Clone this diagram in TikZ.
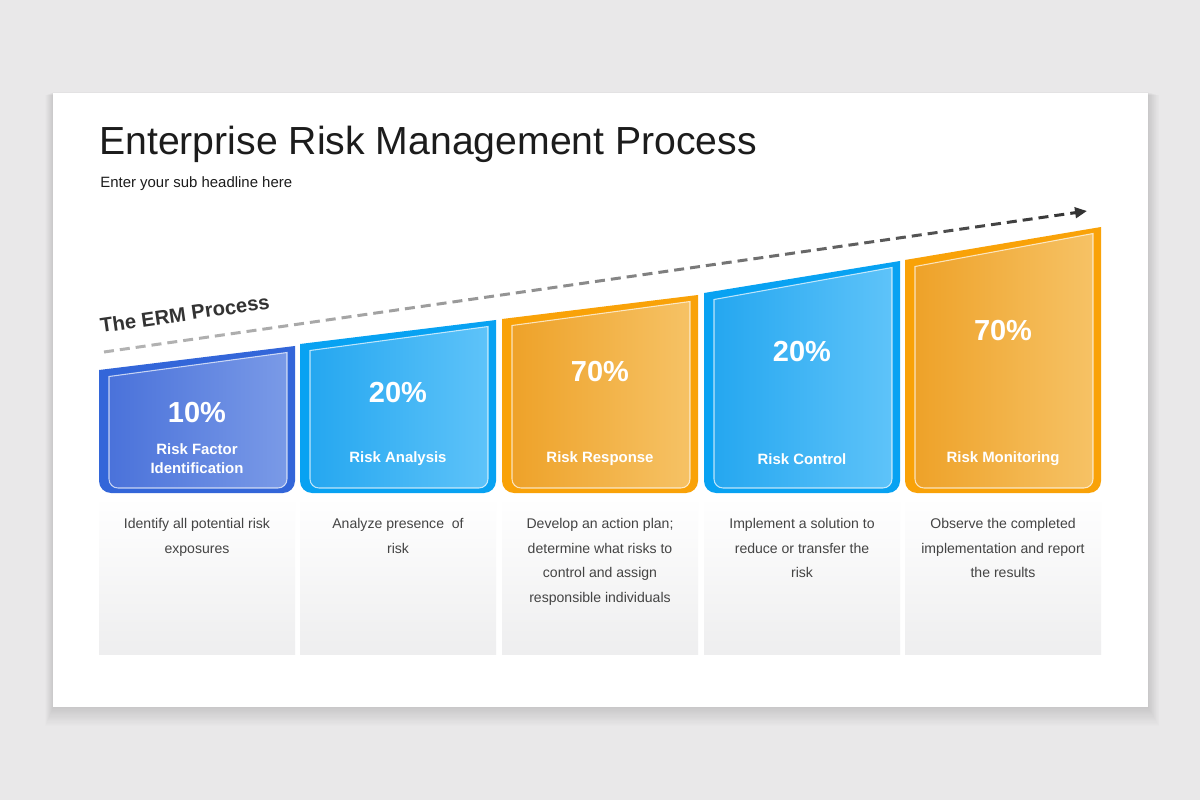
\documentclass[tikz,border=0pt]{standalone}
\usepackage{fontspec}
\setmainfont{Liberation Sans}
\usetikzlibrary{arrows.meta, calc}

\definecolor{slidebg}{HTML}{E9E8E9}
\definecolor{panel}{HTML}{EEEEEF}
\definecolor{titletext}{HTML}{1C1C1C}
\definecolor{desc}{HTML}{444444}
\definecolor{ermblue}{HTML}{3366D9}
\definecolor{ermblue-in}{HTML}{4A72DA}
\definecolor{ermblue-lt}{HTML}{7A9AE7}
\definecolor{ermsky}{HTML}{08A2F2}
\definecolor{ermsky-in}{HTML}{25A7F0}
\definecolor{ermsky-lt}{HTML}{5EC3F9}
\definecolor{ermorange}{HTML}{F9A208}
\definecolor{ermorange-in}{HTML}{EEA229}
\definecolor{ermorange-lt}{HTML}{F6C265}

\begin{document}
\begin{tikzpicture}[x=0.02cm, y=-0.02cm,
    boxnum/.style={text=white, font=\fontsize{16.5}{18}\selectfont\bfseries},
    boxname/.style={text=white, font=\fontsize{8.5}{10.8}\selectfont\bfseries, align=center},
    desctext/.style={text=desc, font=\fontsize{8}{14}\selectfont, align=center, anchor=north, inner sep=0pt},
    dashpiece/.style={line width=1.7pt} % one dash of the rising line
    ]
\useasboundingbox (0,0) rectangle (1200,800);
\fill[slidebg] (0,0) rectangle (1200,800);

% slide with soft shadow
\foreach \s in {0,...,16}
  \fill[black, opacity=0.009] (53-\s*0.5,92+\s*0.2) rectangle (1148+\s*0.7,707+\s*1.2);
\fill[white] (53,93) rectangle (1148,707);

\node[anchor=base west, inner sep=0, text=titletext, font=\fontsize{22.3}{26}\selectfont] (title) at (99,155) {Enterprise Risk Management Process};
\node[anchor=base west, inner sep=0, text=titletext, font=\fontsize{8.5}{10}\selectfont] (subtitle) at (100,188) {Enter your sub headline here};

% rising dashed line
\coordinate (ermA) at (104,352);
\coordinate (ermB) at (1087,211);
\foreach \k in {0,...,60}{
  \pgfmathsetmacro\ta{\k*16/993}
  \pgfmathsetmacro\tb{(\k*16+10)/993}
  \pgfmathsetmacro\sh{30+50*(\k/61)^1.6}
  \draw[dashpiece, draw=black!\sh] ($(ermA)!\ta!(ermB)$) -- ($(ermA)!\tb!(ermB)$);
}
\draw[dashpiece, draw=black!80, -{Triangle[length=6.8pt, width=6pt]}] ($(ermA)!0.983!(ermB)$) -- (ermB);
\node[anchor=base west, inner sep=0, rotate=8.2, text=black!80, font=\fontsize{11.5}{13}\selectfont\bfseries] (ermlabel) at (101,333) {The ERM Process};

% step boxes
\foreach \L/\yl/\yr/\c/\pct/\py/\lab [count=\i] in {
    99/370/346/ermblue/10\%/413/{Risk Factor\\Identification},
    300/344/320/ermsky/20\%/393/{Risk Analysis},
    502/319/295/ermorange/70\%/372/{Risk Response},
    704/293/261/ermsky/20\%/352/{Risk Control},
    905/260/227/ermorange/70\%/331/{Risk Monitoring}}
{
  \pgfmathsetmacro\R{\L+196}
  \pgfmathsetmacro\M{\L+98}
  \fill[\c] (\L,\yl) -- (\R,\yr) -- (\R,481) .. controls (\R,487.6) and (\R-5.4,493) .. (\R-12,493)
    -- (\L+12,493) .. controls (\L+5.4,493) and (\L,487.6) .. (\L,481) -- cycle;
  \path[left color=\c-in, right color=\c-lt, draw=white, draw opacity=0.7, line width=0.6pt]
    (\L+10,\yl+6.5) -- (\R-8,\yr+6.5) -- (\R-8,479) .. controls (\R-8,484) and (\R-12,488) .. (\R-17,488)
    -- (\L+19,488) .. controls (\L+14,488) and (\L+10,484) .. (\L+10,479) -- cycle;
  \node[boxnum] (pct\i) at (\M,\py) {\pct};
  \node[boxname] (name\i) at (\M,459) {\lab};
  \shade[top color=white, bottom color=panel] (\L,497) rectangle (\R,654);
}

% descriptions
\foreach \M/\txt [count=\i] in {
    197/{Identify all potential risk\\exposures},
    398/{Analyze presence \ of\\risk},
    600/{Develop an action plan;\\determine what risks to\\control and assign\\responsible individuals},
    802/{Implement a solution to\\reduce or transfer the\\risk},
    1003/{Observe the completed\\implementation and report\\the results}}
  \node[desctext] (desc\i) at (\M,518) {\txt};
\end{tikzpicture}
\end{document}
